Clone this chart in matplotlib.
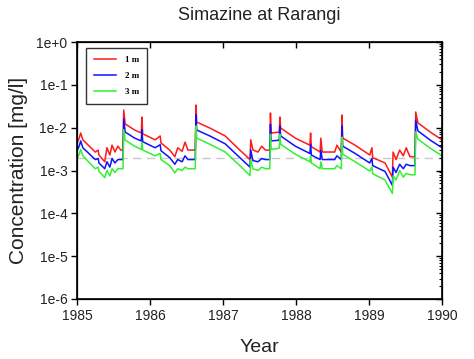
import matplotlib
matplotlib.use("Agg")
import matplotlib.pyplot as plt
import matplotlib.ticker as ticker

# ---- data (decimal year, concentration in mg/l) ----
years = [1985.00, 1985.03, 1985.05, 1985.08, 1985.25, 1985.29, 1985.30, 1985.38,
         1985.41, 1985.45, 1985.48, 1985.52, 1985.56, 1985.60, 1985.63, 1985.64,
         1985.66, 1985.79, 1985.88, 1985.89, 1985.90, 1986.07, 1986.14, 1986.15,
         1986.27, 1986.34, 1986.38, 1986.44, 1986.48, 1986.52, 1986.62, 1986.63,
         1986.64, 1986.82, 1987.03, 1987.23, 1987.37, 1987.38, 1987.41, 1987.48,
         1987.53, 1987.58, 1987.64, 1987.65, 1987.66, 1987.77, 1987.78, 1987.79,
         1987.99, 1988.19, 1988.20, 1988.21, 1988.33, 1988.34, 1988.36, 1988.53,
         1988.56, 1988.62, 1988.63, 1988.64, 1988.81, 1989.01, 1989.04, 1989.05,
         1989.22, 1989.32, 1989.33, 1989.37, 1989.42, 1989.47, 1989.51, 1989.56,
         1989.63, 1989.64, 1989.67, 1989.84, 1990.00]

conc_1m = [0.0044, 0.0057, 0.0075, 0.0052, 0.0027, 0.0030, 0.0023, 0.0016,
           0.0034, 0.0023, 0.0039, 0.0027, 0.0037, 0.0030, 0.0030, 0.0258,
           0.0122, 0.0088, 0.0075, 0.0177, 0.0072, 0.0052, 0.0064, 0.0044,
           0.0030, 0.0021, 0.0034, 0.0028, 0.0046, 0.0030, 0.0030, 0.0338,
           0.0135, 0.0098, 0.0064, 0.0030, 0.0018, 0.0052, 0.0030, 0.0027,
           0.0037, 0.0030, 0.0030, 0.0220, 0.0075, 0.0079, 0.0177, 0.0098,
           0.0057, 0.0039, 0.0075, 0.0036, 0.0027, 0.0057, 0.0027, 0.0027,
           0.0039, 0.0027, 0.0198, 0.0057, 0.0039, 0.0023, 0.0034, 0.0020,
           0.0015, 0.00070, 0.0027, 0.0018, 0.0030, 0.0022, 0.0034, 0.0021,
           0.0021, 0.0232, 0.0129, 0.0079, 0.0052]

conc_2m = [0.0029, 0.0037, 0.0049, 0.0034, 0.0018, 0.0019, 0.0015, 0.0011,
           0.0016, 0.0012, 0.0019, 0.0015, 0.0018, 0.0018, 0.0018, 0.0160,
           0.0079, 0.0057, 0.0049, 0.0090, 0.0047, 0.0034, 0.0040, 0.0029,
           0.0020, 0.0014, 0.0018, 0.0016, 0.0022, 0.0018, 0.0018, 0.0200,
           0.0088, 0.0064, 0.0042, 0.0020, 0.0012, 0.0030, 0.0017, 0.0016,
           0.0019, 0.0018, 0.0018, 0.0120, 0.0049, 0.0051, 0.0110, 0.0064,
           0.0037, 0.0025, 0.0040, 0.0023, 0.0018, 0.0030, 0.0018, 0.0018,
           0.0022, 0.0018, 0.0110, 0.0037, 0.0025, 0.0015, 0.0019, 0.0013,
           0.00095, 0.00045, 0.0012, 0.00090, 0.0014, 0.0011, 0.0014, 0.0013,
           0.0013, 0.0150, 0.0084, 0.0051, 0.0034]

conc_3m = [0.0019, 0.0024, 0.0031, 0.0022, 0.0011, 0.0012, 0.00097, 0.00068,
           0.0010, 0.00075, 0.0011, 0.00090, 0.0011, 0.0011, 0.0011, 0.0090,
           0.0051, 0.0037, 0.0031, 0.0045, 0.0030, 0.0022, 0.0025, 0.0018,
           0.0013, 0.00088, 0.0011, 0.0010, 0.0012, 0.0011, 0.0011, 0.0110,
           0.0057, 0.0041, 0.0027, 0.0013, 0.00076, 0.0018, 0.0011, 0.0010,
           0.0012, 0.0011, 0.0011, 0.0070, 0.0031, 0.0033, 0.0070, 0.0041,
           0.0024, 0.0016, 0.0022, 0.0015, 0.0011, 0.0016, 0.0011, 0.0011,
           0.0013, 0.0011, 0.0060, 0.0024, 0.0016, 0.00097, 0.0012, 0.00084,
           0.00060, 0.00029, 0.00075, 0.00060, 0.0010, 0.00070, 0.00085, 0.00080,
           0.00079, 0.0080, 0.0054, 0.0033, 0.0022]

guideline = 0.002
series_labels = ["1 m", "2 m", "3 m"]
series_colors = ["#ff1a1a", "#1010ff", "#33f033"]
year_ticks = [1985, 1986, 1987, 1988, 1989, 1990]
conc_ticks = [1e0, 1e-1, 1e-2, 1e-3, 1e-4, 1e-5, 1e-6]
conc_tick_labels = ["1e+0", "1e-1", "1e-2", "1e-3", "1e-4", "1e-5", "1e-6"]

plt.rcParams['font.family'] = ['Liberation Sans', 'DejaVu Sans']

fig = plt.figure(figsize=(4.74, 3.59), dpi=100)
ax = fig.add_axes([77 / 474, 1 - 299 / 359, 365 / 474, 257 / 359])

# guideline
ax.axhline(guideline, color='#c8c8c8', linestyle=(0, (6, 4)), linewidth=1.0, zorder=1)

for vals, lab, col in zip([conc_1m, conc_2m, conc_3m], series_labels, series_colors):
    ax.plot(years, vals, color=col, linewidth=1.1, label=lab, zorder=2)

ax.set_yscale('log')
ax.set_ylim(1e-6, 1e0)
ax.set_xlim(1985, 1990)

ax.yaxis.set_major_locator(ticker.FixedLocator(conc_ticks))
ax.yaxis.set_major_formatter(ticker.FixedFormatter(conc_tick_labels))
ax.yaxis.set_minor_locator(ticker.NullLocator())
ax.set_xticks(year_ticks)
ax.set_xticklabels([str(y) for y in year_ticks])
ax.tick_params(axis='both', direction='out', length=4, width=1, labelsize=10, pad=3,
               labelcolor='#222222')

for s in ax.spines.values():
    s.set_linewidth(1.2)

# right side: inward major + minor log ticks
axr = ax.twinx()
axr.set_yscale('log')
axr.set_ylim(1e-6, 1e0)
axr.yaxis.set_major_locator(ticker.LogLocator(base=10, numticks=10))
axr.yaxis.set_minor_locator(ticker.LogLocator(base=10, subs=range(2, 10), numticks=10))
axr.tick_params(axis='y', which='major', direction='in', length=4, width=1, labelright=False)
axr.tick_params(axis='y', which='minor', direction='in', length=2, width=0.8, labelright=False)
axr.set_yticklabels([], minor=True)

# top side: inward year ticks
axt = ax.twiny()
axt.set_xlim(1985, 1990)
axt.set_xticks(year_ticks)
axt.tick_params(axis='x', direction='in', length=4, width=1, labeltop=False)

ax.set_title("Simazine at Rarangi", fontsize=13, pad=16, color='#222222')
ax.set_xlabel("Year", fontsize=14, labelpad=12, color='#222222')
ax.set_ylabel("Concentration [mg/l]", fontsize=15, labelpad=6, color='#222222')

leg = ax.legend(loc='upper left', bbox_to_anchor=(0.025, 0.977), frameon=True, fancybox=False,
                edgecolor='black', prop={'family': 'Liberation Serif', 'weight': 'bold', 'size': 6.5},
                handlelength=2.4, labelspacing=0.85, borderpad=0.9, handletextpad=1.0,
                borderaxespad=0)
leg.get_frame().set_linewidth(1.0)

fig.savefig("out.png", dpi=100)
